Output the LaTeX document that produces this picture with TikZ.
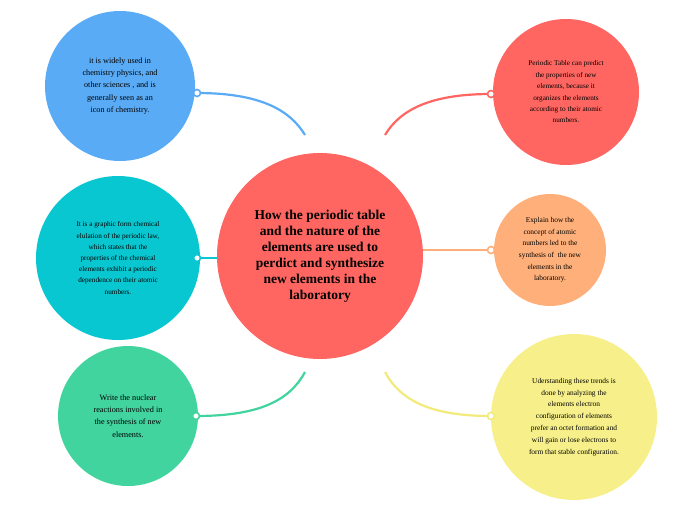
\documentclass[tikz,border=0pt]{standalone}
\usepackage{fontspec}
\setmainfont{Liberation Serif}
\begin{document}
\begin{tikzpicture}[x=1pt,y=-1pt,
 bub/.style={circle,inner sep=0pt,align=center,font=\fontsize{8.2}{12.2}\selectfont},
 con/.style={line width=2.2pt},
 ring/.style={circle,draw,line width=1.6pt,fill=white,inner sep=0pt,minimum size=7pt}]
\definecolor{cblue}{HTML}{5AABF5}\definecolor{cteal}{HTML}{08C7D1}
\definecolor{cgreen}{HTML}{41D49E}\definecolor{cred}{HTML}{FF6661}
\definecolor{corange}{HTML}{FFB07A}\definecolor{cyel}{HTML}{F7F08A}
\definecolor{cyelline}{HTML}{F2EA7A}
\useasboundingbox (0,0) rectangle (696,520);
\coordinate (r1) at (197,93); \coordinate (r2) at (197,258); \coordinate (r3) at (196,416);
\coordinate (r4) at (491,94); \coordinate (r5) at (491,250); \coordinate (r6) at (491,416);
\draw[con,cblue] (r1) .. controls (260,93) and (290,110) .. (305,135);
\draw[con,cteal] (r2) -- (222,258);
\draw[con,cgreen] (r3) .. controls (260,416) and (290,400) .. (305,372);
\draw[con,cred] (r4) .. controls (430,94) and (400,110) .. (385,135);
\draw[con,corange] (r5) -- (420,250);
\draw[con,cyelline] (r6) .. controls (430,416) and (400,400) .. (385,372);
\node[bub,fill=cred,minimum size=206pt,font=\bfseries\fontsize{13.5}{16}\selectfont] (c) at (320,256)
 {How the periodic table\\and the nature of the\\elements are used to\\perdict and synthesize\\new elements in the\\laboratory};
\node[bub,fill=cblue,minimum size=150pt] (a) at (120,86)
 {it is widely used in\\chemistry physics, and\\other sciences , and is\\generally seen as an\\icon of chemistry.};
\node[bub,fill=cteal,minimum size=164pt,font=\fontsize{7.2}{11.2}\selectfont] (b) at (118,258)
 {It is a graphic form chemical\\elulation of the periodic law,\\which states that the\\properties of the chemical\\elements exhibit a periodic\\dependence on their atomic\\numbers.};
\node[bub,fill=cgreen,minimum size=140pt] (d) at (128,416)
 {Write the nuclear\\reactions involved in\\the synthesis of new\\elements.};
\node[bub,fill=cred,minimum size=146pt,font=\fontsize{7.2}{11.4}\selectfont] (e) at (566,92)
 {Periodic Table can predict\\the properties of new\\elements, because it\\organizes the elements\\according to their atomic\\numbers.};
\node[bub,fill=corange,minimum size=112pt,font=\fontsize{7.4}{11.6}\selectfont] (f) at (550,250)
 {Explain how the\\concept of atomic\\numbers led to the\\synthesis of \ the new\\elements in the\\laboratory.};
\node[bub,fill=cyel,minimum size=166pt,font=\fontsize{7.4}{11.8}\selectfont] (g) at (574,417)
 {Uderstanding these trends is\\done by analyzing the\\elements electron\\configuration of elements\\prefer an octet formation and\\will gain or lose electrons to\\form that stable configuration.};
\node[ring,draw=cblue] (k1) at (r1) {};
\node[ring,draw=cteal] (k2) at (r2) {};
\node[ring,draw=cgreen] (k3) at (r3) {};
\node[ring,draw=cred] (k4) at (r4) {};
\node[ring,draw=corange] (k5) at (r5) {};
\node[ring,draw=cyelline] (k6) at (r6) {};
\end{tikzpicture}
\end{document}
